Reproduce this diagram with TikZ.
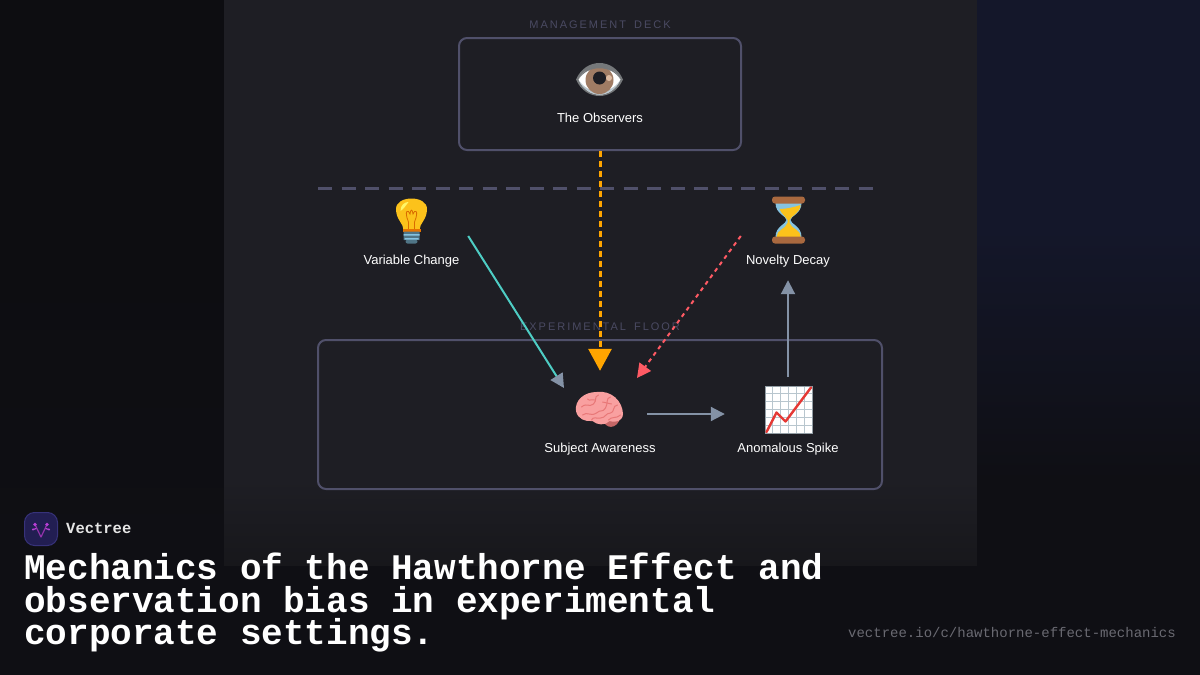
\documentclass[tikz,border=0pt]{standalone}
\usepackage{fontspec}
\setmainfont{Liberation Sans}
\setmonofont{Liberation Mono}
\newfontfamily\deckfont[LetterSpace=18,WordSpace=1.6]{Liberation Sans}
\usepackage{xcolor}
\usetikzlibrary{arrows.meta,positioning}
\normallineskiplimit=-100pt
\AtBeginDocument{\lineskiplimit=-100pt}
\definecolor{leftbg}{HTML}{0D0D11}
\definecolor{panelbg}{HTML}{1E1E24}
\definecolor{panelend}{HTML}{17171B}
\definecolor{rightbg}{HTML}{14172A}
\definecolor{footbg}{HTML}{0F0F14}
\definecolor{edge}{HTML}{50506A}
\definecolor{deckgrey}{HTML}{4A4A62}
\definecolor{tealline}{HTML}{4ECDC4}
\definecolor{orangeline}{HTML}{FFA500}
\definecolor{redline}{HTML}{FF5A64}
\definecolor{greyline}{HTML}{8492A6}
\definecolor{urlgrey}{HTML}{6A6A72}
\definecolor{bulbyellow}{HTML}{FCC21B}
\definecolor{woodbrown}{HTML}{A9693F}
\definecolor{glassblue}{HTML}{86C3E0}
\definecolor{brainpink}{HTML}{F9A0A0}
\definecolor{brainfold}{HTML}{E87878}
\definecolor{gridgrey}{HTML}{B8C6CE}
\definecolor{irisbrown}{HTML}{A07C64}
\definecolor{irislight}{HTML}{DDBBA2}
\definecolor{lidgrey}{HTML}{75787A}
\definecolor{linered}{HTML}{E53935}
\definecolor{logobg}{HTML}{221E52}
\definecolor{logoedge}{HTML}{37327A}
\definecolor{logopink}{HTML}{B83FD6}
\tikzset{
  eyeicon/.pic={
    \fill[lidgrey] (-23.5,0) .. controls (-14,-22) and (14,-22) .. (23.5,0) .. controls (14,22) and (-14,22) .. (-23.5,0) -- cycle;
    \fill[white] (-21,0) .. controls (-12,-18) and (12,-18) .. (21,0) .. controls (12,20) and (-12,20) .. (-21,0) -- cycle;
    \fill[gridgrey] (-21,0) .. controls (-12,20) and (12,20) .. (21,0) .. controls (12,16) and (-12,16) .. (-21,0) -- cycle;
    \fill[irisbrown] (0,0.5) circle (14);
    \fill[lidgrey] (-21,0) .. controls (-12,-19) and (12,-19) .. (21,0) .. controls (12,-15) and (-12,-15) .. (-21,0) -- cycle;
    \fill[panelbg] (0,-1.5) circle (6.5);
    \fill[irislight] (9.5,-1.5) circle (3);
  },
  bulbicon/.pic={
    \fill[bulbyellow] (-8,13) .. controls (-8,6) and (-15.5,3) .. (-15.5,-8) .. controls (-15.5,-22) and (15.5,-22) .. (15.5,-8) .. controls (15.5,3) and (8,6) .. (8,13) -- cycle;
    \fill[yellow!60!white] (-11,-6) .. controls (-11,-12) and (-7,-15) .. (-3,-15) .. controls (-6,-11) and (-8,-8) .. (-11,-6) -- cycle;
    \draw[orange!85!black, line width=0.8] (-3,12) -- (-3,5) .. controls (-8,-7) and (-3,-8) .. (-1.5,-3) .. controls (-1,-8) and (1,-8) .. (1.5,-3) .. controls (3,-8) and (8,-7) .. (3,5) -- (3,12);
    \fill[orange!90!black] (-9,12) rectangle (9,14.5);
    \fill[glassblue!60!black] (-8,14.5) rectangle (8,23) [rounded corners=2] (-6,23) rectangle (6,26.5);
    \fill[glassblue] (-8,17) rectangle (8,18.5) (-7,21) rectangle (7,22.5);
  },
  hourglassicon/.pic={
    \fill[glassblue] (-13,-17) .. controls (-13,-6) and (-2,-4) .. (-2,0) .. controls (-2,4) and (-13,6) .. (-13,17) -- (13,17) .. controls (13,6) and (2,4) .. (2,0) .. controls (2,-4) and (13,-6) .. (13,-17) -- cycle;
    \fill[bulbyellow] (-9,-11) .. controls (-2,-11) and (6,-13) .. (12,-15) .. controls (12,-7) and (2,-4) .. (1,0) -- (1,3) .. controls (3,9) and (12,9) .. (12,17) -- (-12,17) .. controls (-12,10) and (-3,9) .. (-1,3) -- (-1,0) .. controls (-3,-4) and (-7,-6) .. (-9,-11) -- cycle;
    \fill[woodbrown, rounded corners=3] (-16.5,-23.5) rectangle (16.5,-16.5) (-16.5,16.5) rectangle (16.5,23.5);
  },
  brainicon/.pic={
    \fill[brainfold!85!black] (3,8) .. controls (5,20) and (18,20) .. (21,7) -- cycle;
    \fill[brainpink] (-23.5,1) .. controls (-25,-10) and (-15,-18) .. (-3,-18) .. controls (12,-20) and (23,-9) .. (23.5,4) .. controls (23,11) and (17,13) .. (10,11) .. controls (6,16) and (-3,15) .. (-7,11) .. controls (-14,12) and (-22,9) .. (-23.5,1) -- cycle;
    \draw[brainfold, line width=1, line cap=round]
      (-18,-3) .. controls (-12,-8) and (-11,-2) .. (-6,-6) .. controls (-2,-10) and (-6,-13) .. (-1,-15)
      (-17,5) .. controls (-12,1) and (-9,7) .. (-3,3) .. controls (1,-1) and (3,3) .. (6,-2) .. controls (9,-7) and (6,-12) .. (11,-13)
      (-8,10) .. controls (-6,6) and (-3,9) .. (1,8) .. controls (6,8) and (6,3) .. (11,3) .. controls (15,3) and (13,-5) .. (18,-5)
      (9,10) .. controls (12,6) and (17,9) .. (21,5)
      (-12,-11) .. controls (-9,-8) and (-8,-12) .. (-5,-10)
      (3,-8) .. controls (6,-6) and (9,-8) .. (12,-6);
  },
  charticon/.pic={
    \fill[white] (-23.5,-23.5) rectangle (23.5,23.5);
    \foreach \g in {-15.67,-7.83,0,7.83,15.67} {
      \draw[gridgrey, line width=0.9] (\g,-23.5) -- (\g,23.5);
      \draw[gridgrey, line width=0.9] (-23.5,\g) -- (23.5,\g);
    }
    \draw[gridgrey!80!black, line width=1] (-23.5,-23.5) rectangle (23.5,23.5);
    \draw[linered, line width=2.4, line cap=round, line join=round] (-22,22.5) -- (-12,3) -- (-3,12) -- (22.5,-22);
  },
  logoicon/.pic={
    \draw[logopink!80!black, line width=1.2, line join=round] (-5.5,-3.5) -- (0,8) -- (5.5,-3.5);
    \draw[logopink, line width=1.2] (-8,0.5) -- (-4.5,-0.5) (8,0.5) -- (4.5,-0.5);
    \fill[logopink] (-6,-4.5) circle (1.8) (6,-4.5) circle (1.8) (-8,0.5) circle (1.2) (8,0.5) circle (1.2);
  }
}
\begin{document}
\begin{tikzpicture}[
    x=1pt, y=-1pt,
    deck/.style={rectangle, draw=edge, line width=2pt, rounded corners=8pt, fill=panelbg, inner sep=0pt},
    decklabel/.style={text=deckgrey, font=\fontsize{11}{13}\deckfont, inner sep=0pt},
    caption/.style={anchor=base, text=white, font=\fontsize{13}{15}\selectfont, inner sep=0pt},
    hitbox/.style={rectangle, inner sep=0pt},
    arrowtip/.style={-{Triangle[length=14pt, width=14pt, color=greyline]}},
    arrow/.style={arrowtip, greyline, line width=2pt}
]
\useasboundingbox (0,0) rectangle (1200,675);
% backdrop
\shade[top color=leftbg, bottom color=footbg] (0,250) rectangle (224,566);
\fill[leftbg] (0,0) rectangle (224,250);
\fill[panelbg] (224,0) rectangle (977,480);
\shade[top color=panelbg, bottom color=panelend] (224,480) rectangle (977,566);
\fill[rightbg] (977,0) rectangle (1200,230);
\shade[top color=rightbg, bottom color=footbg] (977,230) rectangle (1200,480);
\fill[footbg] (977,480) rectangle (1200,566);
\fill[footbg] (0,566) rectangle (1200,675);
% zones
\node[decklabel] (decktitle) at (600,25) {MANAGEMENT DECK};
\node[deck, minimum width=282pt, minimum height=112pt] (observers) at (600,94) {};
\node[decklabel] (floortitle) at (600,327) {EXPERIMENTAL FLOOR};
\node[deck, minimum width=564pt, minimum height=149pt] (floor) at (600,414.5) {};
\coordinate (lineL) at (318,188);
\coordinate (lineR) at (873,188);
\draw[edge, line width=3pt, dash pattern=on 14pt off 9.5pt] (lineL) -- (lineR);
% concepts
\node[hitbox, minimum width=112pt, minimum height=88pt] (change) at (412,236) {};
\node[hitbox, minimum width=94pt, minimum height=88pt] (novelty) at (788,236) {};
\node[hitbox, minimum width=94pt, minimum height=86pt] (aware) at (600,414) {};
\node[hitbox, minimum width=126pt, minimum height=74pt] (spike) at (788,414) {};
\coordinate (awareL) at (564,388);
\coordinate (awareR) at (637,378);
\pic at (599.5,79.5) {eyeicon};
\pic at (411.5,217) {bulbicon};
\pic at (788.5,220) {hourglassicon};
\pic at (599.5,410) {brainicon};
\pic at (788.5,409.5) {charticon};
\node[caption] (observerstext) at (600,122) {The Observers};
\node[caption] (changetext) at (411.5,264) {Variable Change};
\node[caption] (noveltytext) at (788,264) {Novelty Decay};
\node[caption] (awaretext) at (600,452) {Subject Awareness};
\node[caption] (spiketext) at (788,452) {Anomalous Spike};
% connectors
\draw[-{Triangle[length=22pt, width=23pt]}, orangeline, line width=3pt, dash pattern=on 6pt off 4pt] (observers.south) -- (aware.north);
\draw[arrowtip, tealline, line width=2pt] (change.east) -- (awareL);
\draw[-{Triangle[length=14pt, width=14pt]}, redline, line width=2pt, dash pattern=on 4pt off 4pt] (novelty.west) -- (awareR);
\draw[arrow] (aware.east) -- (spike.west);
\draw[arrow] (spike.north) -- (novelty.south);
% footer
\node[rectangle, fill=logobg, draw=logoedge, line width=1pt, rounded corners=10pt, minimum width=33pt, minimum height=33pt, inner sep=0pt] (logo) at (41,529) {};
\pic at (41,529) {logoicon};
\node[right=8pt of logo, yshift=1pt, inner sep=0pt, text=white!90!black, font=\fontsize{15.5}{18}\ttfamily\bfseries] (brand) {Vectree};
\node[anchor=north west, inner sep=0pt, align=left, text=white, font=\fontsize{36}{32.4}\ttfamily\bfseries] (headline) at (24,553) {Mechanics of the Hawthorne Effect and\\observation bias in experimental\\corporate settings.};
\node[anchor=east, inner sep=0pt, text=urlgrey, font=\fontsize{14}{16}\ttfamily] (url) at (1176,632.5) {vectree.io/c/hawthorne-effect-mechanics};
\end{tikzpicture}
\end{document}
